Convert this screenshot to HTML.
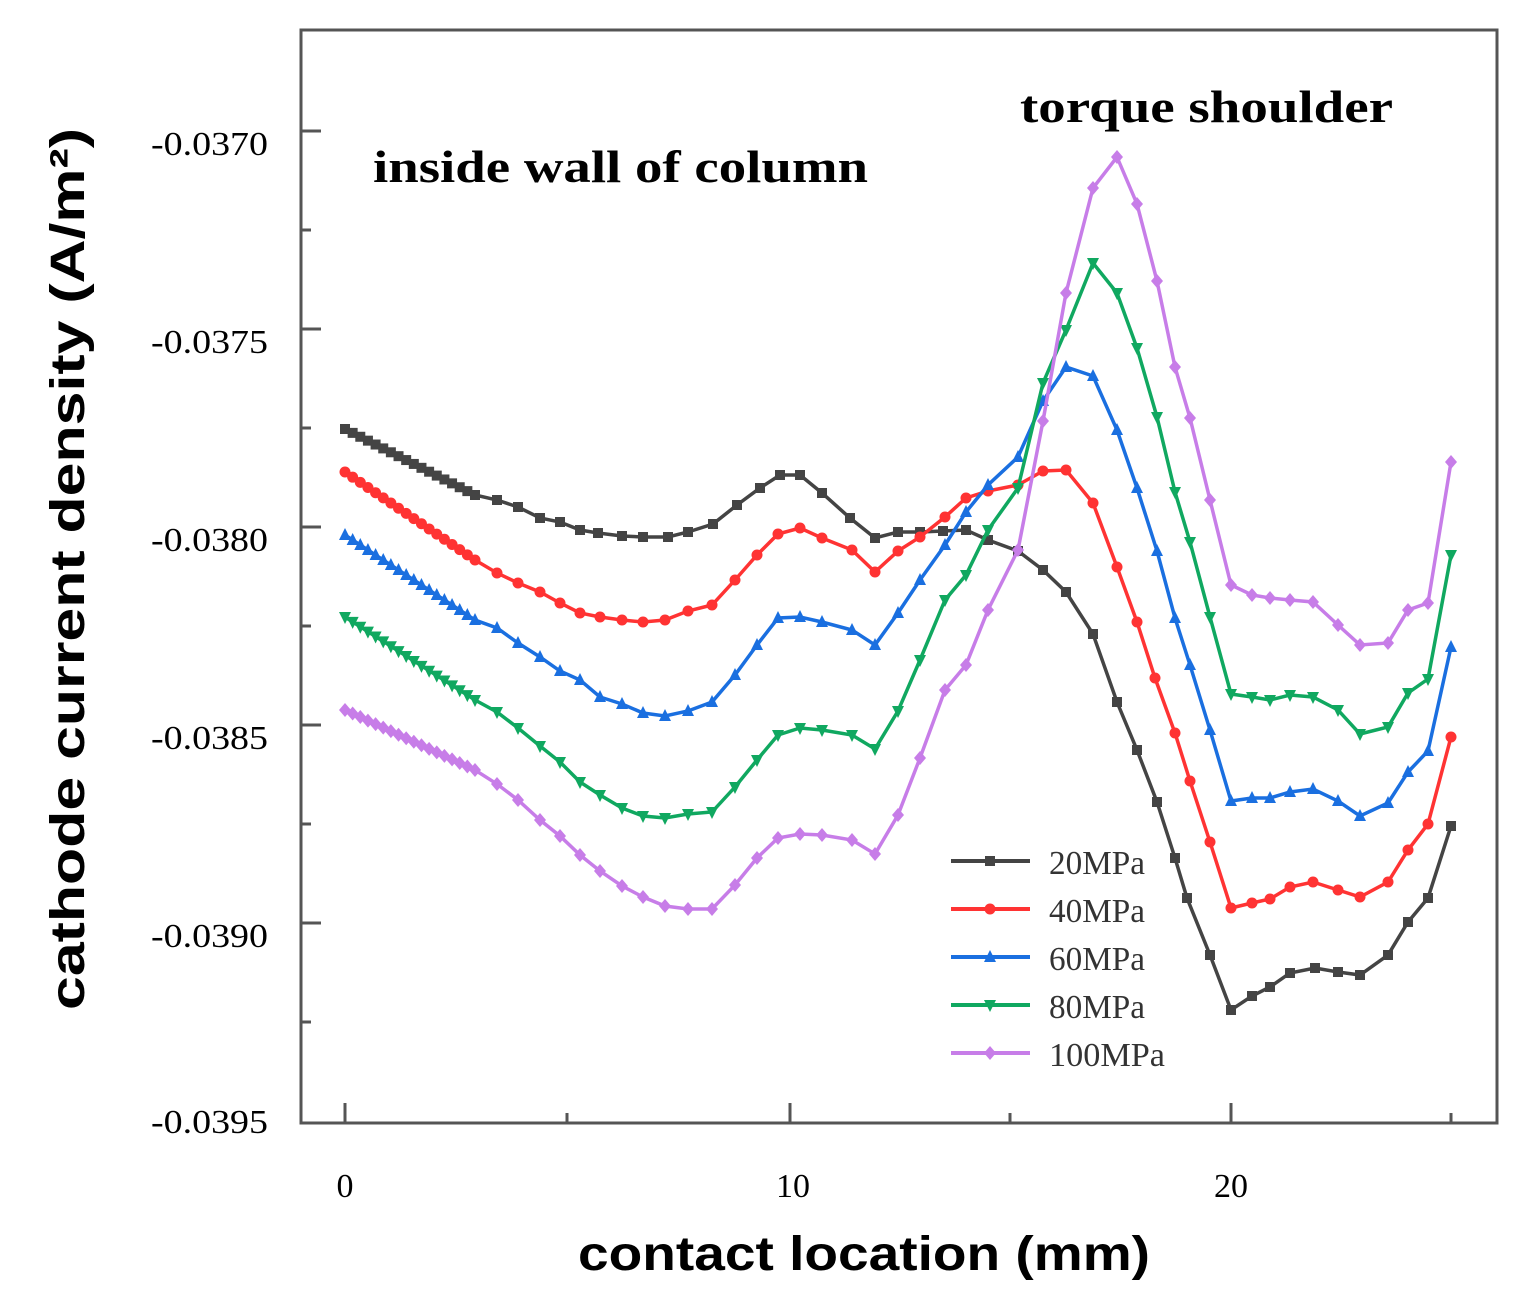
<!DOCTYPE html>
<html><head><meta charset="utf-8"><style>html,body{margin:0;padding:0;background:#fff}svg{display:block}</style></head>
<body>
<svg id="s" width="1526" height="1309" xmlns="http://www.w3.org/2000/svg">
<rect x="301" y="30" width="1196" height="1093" fill="none" stroke="#555" stroke-width="3"/>
<g stroke="#555" stroke-width="3">
<line x1="301" y1="131" x2="321" y2="131"/><line x1="301" y1="230" x2="311" y2="230"/>
<line x1="301" y1="329" x2="321" y2="329"/><line x1="301" y1="428" x2="311" y2="428"/>
<line x1="301" y1="527" x2="321" y2="527"/><line x1="301" y1="626" x2="311" y2="626"/>
<line x1="301" y1="725" x2="321" y2="725"/><line x1="301" y1="824" x2="311" y2="824"/>
<line x1="301" y1="923" x2="321" y2="923"/><line x1="301" y1="1022" x2="311" y2="1022"/>
<line x1="345" y1="1123" x2="345" y2="1103"/><line x1="567" y1="1123" x2="567" y2="1113"/>
<line x1="790" y1="1123" x2="790" y2="1103"/><line x1="1010" y1="1123" x2="1010" y2="1113"/>
<line x1="1231" y1="1123" x2="1231" y2="1103"/><line x1="1451" y1="1123" x2="1451" y2="1113"/>
</g>
<g font-family="Liberation Serif, serif" font-size="34" fill="#000">
<text x="151" y="155" textLength="117" lengthAdjust="spacingAndGlyphs">-0.0370</text>
<text x="151" y="353" textLength="117" lengthAdjust="spacingAndGlyphs">-0.0375</text>
<text x="151" y="551" textLength="117" lengthAdjust="spacingAndGlyphs">-0.0380</text>
<text x="151" y="749" textLength="117" lengthAdjust="spacingAndGlyphs">-0.0385</text>
<text x="151" y="947" textLength="117" lengthAdjust="spacingAndGlyphs">-0.0390</text>
<text x="151" y="1133" textLength="117" lengthAdjust="spacingAndGlyphs">-0.0395</text>
</g>
<g font-family="Liberation Serif, serif" font-size="34" fill="#000" text-anchor="middle">
<text x="345" y="1197">0</text><text x="793" y="1197">10</text><text x="1231" y="1197">20</text>
</g>
<text x="578" y="1270" font-family="Liberation Sans, sans-serif" font-size="48" font-weight="bold" textLength="572" lengthAdjust="spacingAndGlyphs">contact location (mm)</text>
<text transform="translate(84,1010) rotate(-90)" font-family="Liberation Sans, sans-serif" font-size="48" font-weight="bold" textLength="882" lengthAdjust="spacingAndGlyphs">cathode current density (A/m²)</text>
<text x="373" y="182" font-family="Liberation Serif, serif" font-size="46" font-weight="bold" textLength="495" lengthAdjust="spacingAndGlyphs">inside wall of column</text>
<text x="1020" y="122" font-family="Liberation Serif, serif" font-size="46" font-weight="bold" textLength="373" lengthAdjust="spacingAndGlyphs">torque shoulder</text>
<g id="series"></g>
<g id="legend" font-family="Liberation Serif, serif" font-size="34" fill="#333"></g>
</svg>
<script>
var S=[
["#444","sq",[[345,429],[475,495],[497,500],[518,507],[540,518],[560,522],[580,530],[598,533],[622,536],[643,537],[668,537],[688,532],[713,524],[737,505],[760,488],[780,475],[800,475],[822,493],[850,518],[875,538],[898,532],[920,532],[943,531],[966,530],[988,540],[1018,551],[1043,570],[1066,592],[1093,634],[1117,702],[1137,750],[1157,802],[1175,858],[1187,898],[1210,955],[1231,1010],[1252,996],[1270,987],[1290,973],[1315,968],[1338,972],[1360,975],[1388,955],[1408,922],[1428,898],[1451,826]]],
["#ff3333","ci",[[345,472],[475,560],[497,573],[518,583],[540,592],[560,603],[580,613],[600,617],[622,620],[643,622],[665,620],[688,611],[712,605],[735,580],[757,555],[778,534],[800,528],[822,538],[852,550],[875,572],[898,551],[920,537],[945,517],[966,498],[988,491],[1018,485],[1043,471],[1066,470],[1093,503],[1117,567],[1137,622],[1155,678],[1175,733],[1190,781],[1210,842],[1231,908],[1252,903],[1270,899],[1290,887],[1313,882],[1338,890],[1360,897],[1388,882],[1408,850],[1428,824],[1451,737]]],
["#1a6fe0","up",[[345,535],[475,620],[497,628],[518,643],[540,657],[560,671],[580,680],[600,697],[622,704],[643,713],[665,716],[688,711],[712,702],[735,675],[757,645],[778,618],[800,617],[822,622],[852,630],[875,645],[898,613],[920,580],[945,545],[966,512],[988,485],[1018,457],[1043,401],[1066,367],[1093,376],[1117,430],[1137,488],[1157,551],[1175,618],[1190,665],[1210,730],[1231,801],[1252,798],[1270,798],[1290,792],[1313,789],[1338,801],[1360,816],[1388,803],[1408,772],[1428,751],[1451,647]]],
["#10a860","dn",[[345,617],[475,700],[497,712],[518,728],[540,746],[560,762],[580,782],[600,795],[622,808],[643,816],[665,818],[688,814],[712,812],[735,787],[757,760],[778,735],[800,728],[822,730],[852,735],[875,749],[898,711],[920,660],[945,600],[966,575],[988,530],[1018,488],[1043,383],[1066,330],[1093,263],[1117,293],[1137,348],[1157,417],[1175,492],[1190,542],[1210,617],[1231,694],[1252,697],[1270,700],[1290,695],[1313,697],[1338,710],[1360,734],[1388,727],[1408,693],[1428,679],[1451,555]]],
["#c77de8","di",[[345,710],[475,770],[497,784],[518,800],[540,820],[560,836],[580,855],[600,871],[622,886],[643,897],[665,906],[688,909],[712,909],[735,885],[757,858],[778,838],[800,834],[822,835],[852,840],[875,854],[898,815],[920,758],[945,690],[966,665],[988,610],[1018,550],[1043,421],[1066,293],[1093,188],[1117,157],[1137,204],[1157,281],[1175,367],[1190,418],[1210,500],[1231,585],[1252,595],[1270,598],[1290,600],[1313,602],[1338,625],[1360,645],[1388,643],[1408,610],[1428,603],[1451,462]]]
];
var NS="http://www.w3.org/2000/svg";
function el(n,a,p){var e=document.createElementNS(NS,n);for(var k in a)e.setAttribute(k,a[k]);p.appendChild(e);return e;}
function mk(t,x,y,c,p){
 if(t=="sq")el("rect",{x:x-5,y:y-5,width:10,height:10,fill:c},p);
 else if(t=="ci")el("circle",{cx:x,cy:y,r:5.5,fill:c},p);
 else if(t=="up")el("polygon",{points:(x)+","+(y-7)+" "+(x-6)+","+(y+5)+" "+(x+6)+","+(y+5),fill:c},p);
 else if(t=="dn")el("polygon",{points:(x)+","+(y+7)+" "+(x-6)+","+(y-5)+" "+(x+6)+","+(y-5),fill:c},p);
 else el("polygon",{points:x+","+(y-7)+" "+(x+6)+","+y+" "+x+","+(y+7)+" "+(x-6)+","+y,fill:c},p);}
var g=document.getElementById("series");
S.forEach(function(s){
 var pts=s[2];
 el("polyline",{points:pts.map(function(p){return p.join(",")}).join(" "),fill:"none",stroke:s[0],"stroke-width":3.5},g);
 var a=pts[0],b=pts[1];
 for(var i=0;i<17;i++){var t=i/17;mk(s[1],a[0]+(b[0]-a[0])*t,a[1]+(b[1]-a[1])*t,s[0],g);}
 for(var i=1;i<pts.length;i++)mk(s[1],pts[i][0],pts[i][1],s[0],g);
});
var lg=document.getElementById("legend"),names=["20MPa","40MPa","60MPa","80MPa","100MPa"],ys=[861,909,957,1005,1053],w=[96,96,96,96,116];
S.forEach(function(s,i){var y=ys[i];
 el("line",{x1:951,y1:y,x2:1030,y2:y,stroke:s[0],"stroke-width":4},lg);
 mk(s[1],990,y,s[0],lg);
 var t=el("text",{x:1049,y:y+13,textLength:w[i],lengthAdjust:"spacingAndGlyphs"},lg);t.textContent=names[i];});
</script>
</body></html>
